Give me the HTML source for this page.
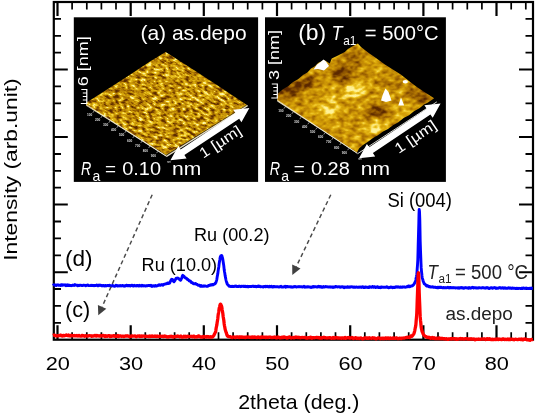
<!DOCTYPE html>
<html><head><meta charset="utf-8"><title>XRD</title>
<style>html,body{margin:0;padding:0;background:#fff}body{width:535px;height:414px;overflow:hidden}</style></head>
<body>
<svg width="535" height="414" viewBox="0 0 535 414" style="display:block">
<defs>
<filter id="fa" x="0" y="0" width="100%" height="100%" color-interpolation-filters="sRGB">
  <feGaussianBlur in="SourceGraphic" stdDeviation="3" result="s"/>
  <feTurbulence type="fractalNoise" baseFrequency="0.33 0.19" numOctaves="3" seed="11"/>
  <feColorMatrix type="matrix" values="1 0 0 0 0  1 0 0 0 0  1 0 0 0 0  0 0 0 0 1" result="n"/>
  <feComposite in="n" in2="s" operator="arithmetic" k1="0" k2="2.2" k3="1.0" k4="-1.12" result="m"/>
  <feColorMatrix in="m" type="matrix" values="1 0 0 0 0  1 0 0 0 0  1 0 0 0 0  0 0 0 0 1" result="g"/>
  <feComponentTransfer in="g">
    <feFuncR type="table" tableValues="0.36 0.52 0.68 0.78 0.86 0.96 1.0"/>
    <feFuncG type="table" tableValues="0.17 0.31 0.46 0.58 0.68 0.83 0.98"/>
    <feFuncB type="table" tableValues="0.00 0.00 0.01 0.03 0.05 0.22 0.7"/>
  </feComponentTransfer>
</filter>
<filter id="fb" x="0" y="0" width="100%" height="100%" color-interpolation-filters="sRGB">
  <feGaussianBlur in="SourceGraphic" stdDeviation="3.5" result="s"/>
  <feTurbulence type="fractalNoise" baseFrequency="0.17 0.18" numOctaves="2" seed="8"/>
  <feColorMatrix type="matrix" values="1 0 0 0 0  1 0 0 0 0  1 0 0 0 0  0 0 0 0 1" result="n"/>
  <feComposite in="n" in2="s" operator="arithmetic" k1="0" k2="1.1" k3="1.15" k4="-0.58" result="m"/>
  <feColorMatrix in="m" type="matrix" values="1 0 0 0 0  1 0 0 0 0  1 0 0 0 0  0 0 0 0 1" result="g"/>
  <feComponentTransfer in="g">
    <feFuncR type="table" tableValues="0.36 0.52 0.66 0.77 0.86 0.95 1.0"/>
    <feFuncG type="table" tableValues="0.16 0.30 0.43 0.55 0.66 0.80 0.95"/>
    <feFuncB type="table" tableValues="0.00 0.00 0.01 0.02 0.04 0.18 0.6"/>
  </feComponentTransfer>
</filter>
<filter id="bl"><feGaussianBlur stdDeviation="0.6"/></filter>
<filter id="bl2"><feGaussianBlur stdDeviation="3"/></filter>
</defs>
<rect width="535" height="414" fill="#fff"/>
<g stroke="#000" fill="none" stroke-linecap="butt">
<rect x="53.8" y="2.0" width="479.2" height="337.7" stroke-width="2.2"/>
<path d="M72.1 2.0v7.5M72.1 339.7v-7.5M86.8 2.0v7.5M86.8 339.7v-7.5M101.4 2.0v7.5M101.4 339.7v-7.5M116.0 2.0v7.5M116.0 339.7v-7.5M145.3 2.0v7.5M145.3 339.7v-7.5M159.9 2.0v7.5M159.9 339.7v-7.5M174.6 2.0v7.5M174.6 339.7v-7.5M189.2 2.0v7.5M189.2 339.7v-7.5M218.5 2.0v7.5M218.5 339.7v-7.5M233.1 2.0v7.5M233.1 339.7v-7.5M247.7 2.0v7.5M247.7 339.7v-7.5M262.4 2.0v7.5M262.4 339.7v-7.5M291.6 2.0v7.5M291.6 339.7v-7.5M306.3 2.0v7.5M306.3 339.7v-7.5M320.9 2.0v7.5M320.9 339.7v-7.5M335.5 2.0v7.5M335.5 339.7v-7.5M364.8 2.0v7.5M364.8 339.7v-7.5M379.4 2.0v7.5M379.4 339.7v-7.5M394.1 2.0v7.5M394.1 339.7v-7.5M408.7 2.0v7.5M408.7 339.7v-7.5M438.0 2.0v7.5M438.0 339.7v-7.5M452.6 2.0v7.5M452.6 339.7v-7.5M467.3 2.0v7.5M467.3 339.7v-7.5M481.9 2.0v7.5M481.9 339.7v-7.5M511.2 2.0v7.5M511.2 339.7v-7.5M525.8 2.0v7.5M525.8 339.7v-7.5" stroke-width="1.7"/>
<path d="M57.5 2.0v14M57.5 339.7v-14.5M130.7 2.0v14M130.7 339.7v-14.5M203.8 2.0v14M203.8 339.7v-14.5M277.0 2.0v14M277.0 339.7v-14.5M350.2 2.0v14M350.2 339.7v-14.5M423.4 2.0v14M423.4 339.7v-14.5M496.5 2.0v14M496.5 339.7v-14.5" stroke-width="2.2"/>
<path d="M53.8 18.9h7.2M533.0 18.9h-7.5M53.8 35.8h7.2M533.0 35.8h-7.5M53.8 52.7h7.2M533.0 52.7h-7.5M53.8 86.4h7.2M533.0 86.4h-7.5M53.8 103.3h7.2M533.0 103.3h-7.5M53.8 120.2h7.2M533.0 120.2h-7.5M53.8 154.0h7.2M533.0 154.0h-7.5M53.8 170.8h7.2M533.0 170.8h-7.5M53.8 187.7h7.2M533.0 187.7h-7.5M53.8 221.5h7.2M533.0 221.5h-7.5M53.8 238.4h7.2M533.0 238.4h-7.5M53.8 255.3h7.2M533.0 255.3h-7.5M53.8 289.0h7.2M533.0 289.0h-7.5M53.8 305.9h7.2M533.0 305.9h-7.5M53.8 322.8h7.2M533.0 322.8h-7.5" stroke-width="1.8"/>
<path d="M53.8 69.5h14M533.0 69.5h-14M53.8 137.1h14M533.0 137.1h-14M53.8 204.6h14M533.0 204.6h-14M53.8 272.2h14M533.0 272.2h-14" stroke-width="2"/>
</g>
<path d="M53.0 285.6L53.2 285.4L53.5 285.1L53.8 284.8L54.0 284.9L54.2 285.0L54.5 285.1L54.8 285.0L55.0 285.0L55.2 285.0L55.5 285.0L55.8 285.4L56.0 285.5L56.2 285.6L56.5 285.4L56.8 285.1L57.0 285.0L57.2 284.9L57.5 285.1L57.8 284.9L58.0 285.0L58.2 285.2L58.5 285.4L58.8 285.3L59.0 285.1L59.2 285.1L59.5 285.2L59.8 285.1L60.0 285.1L60.2 285.3L60.5 285.4L60.8 285.5L61.0 285.1L61.2 284.9L61.5 284.7L61.8 284.6L62.0 284.8L62.2 285.0L62.5 285.2L62.8 285.2L63.0 285.0L63.2 285.1L63.5 285.0L63.8 284.9L64.0 284.9L64.2 284.9L64.5 284.9L64.8 284.9L65.0 284.8L65.2 285.1L65.5 285.5L65.8 285.7L66.0 285.8L66.2 285.7L66.5 285.6L66.8 285.3L67.0 285.2L67.2 284.8L67.5 284.9L67.8 285.0L68.0 285.4L68.2 285.6L68.5 285.5L68.8 285.6L69.0 285.3L69.2 285.3L69.5 285.2L69.8 285.3L70.0 285.4L70.2 285.6L70.5 285.4L70.8 285.5L71.0 285.5L71.2 285.7L71.5 285.6L71.8 285.6L72.0 285.5L72.2 285.4L72.5 285.2L72.8 285.3L73.0 285.2L73.2 285.3L73.5 285.3L73.8 285.3L74.0 285.4L74.2 285.5L74.5 285.2L74.8 284.9L75.0 284.6L75.2 284.8L75.5 284.9L75.8 285.1L76.0 285.1L76.2 285.2L76.5 285.2L76.8 285.3L77.0 285.3L77.2 285.3L77.5 285.5L77.8 285.7L78.0 285.6L78.2 285.3L78.5 285.4L78.8 285.5L79.0 285.6L79.2 285.4L79.5 285.3L79.8 285.3L80.0 285.4L80.2 285.4L80.5 285.3L80.8 285.3L81.0 285.3L81.2 285.4L81.5 285.4L81.8 285.5L82.0 285.5L82.2 285.6L82.5 285.4L82.8 285.5L83.0 285.3L83.2 285.3L83.5 285.1L83.8 285.1L84.0 285.3L84.2 285.4L84.5 285.4L84.8 285.4L85.0 285.2L85.2 285.3L85.5 285.5L85.8 285.7L86.0 285.7L86.2 285.5L86.5 285.4L86.8 285.3L87.0 285.4L87.2 285.4L87.5 285.2L87.8 285.0L88.0 285.1L88.2 285.3L88.5 285.5L88.8 285.6L89.0 285.5L89.2 285.6L89.5 285.6L89.8 285.6L90.0 285.6L90.2 285.6L90.5 285.4L90.8 285.5L91.0 285.3L91.2 285.4L91.5 285.4L91.8 285.5L92.0 285.3L92.2 285.4L92.5 285.4L92.8 285.5L93.0 285.4L93.2 285.4L93.5 285.4L93.8 285.4L94.0 285.7L94.2 285.6L94.5 285.4L94.8 285.5L95.0 285.4L95.2 285.5L95.5 285.5L95.8 285.4L96.0 285.3L96.2 285.2L96.5 285.2L96.8 285.0L97.0 285.1L97.2 285.4L97.5 285.7L97.8 285.9L98.0 285.9L98.2 285.7L98.5 285.4L98.8 285.2L99.0 285.0L99.2 285.1L99.5 285.2L99.8 285.4L100.0 285.5L100.2 285.3L100.5 285.2L100.8 285.1L101.0 285.4L101.2 285.5L101.5 285.6L101.8 285.7L102.0 285.9L102.2 285.8L102.5 285.6L102.8 285.4L103.0 285.4L103.2 285.5L103.5 285.6L103.8 285.7L104.0 285.9L104.2 286.0L104.5 285.9L104.8 285.7L105.0 285.6L105.2 285.5L105.5 285.6L105.8 285.9L106.0 285.8L106.2 285.9L106.5 285.7L106.8 285.7L107.0 285.8L107.2 285.7L107.5 285.6L107.8 285.5L108.0 285.4L108.2 285.5L108.5 285.5L108.8 285.8L109.0 285.7L109.2 285.7L109.5 285.2L109.8 285.4L110.0 285.6L110.2 285.7L110.5 285.8L110.8 285.8L111.0 285.8L111.2 285.9L111.5 286.1L111.8 285.9L112.0 285.7L112.2 285.5L112.5 285.5L112.8 285.4L113.0 285.7L113.2 286.1L113.5 286.1L113.8 286.1L114.0 286.1L114.2 286.2L114.5 286.2L114.8 286.2L115.0 286.1L115.2 285.9L115.5 285.7L115.8 285.3L116.0 285.3L116.2 285.4L116.5 285.4L116.8 285.4L117.0 285.5L117.2 285.7L117.5 286.1L117.8 286.0L118.0 285.9L118.2 285.9L118.5 285.8L118.8 285.9L119.0 285.8L119.2 285.9L119.5 285.6L119.8 285.7L120.0 285.6L120.2 285.5L120.5 285.7L120.8 285.7L121.0 286.0L121.2 285.9L121.5 285.9L121.8 285.7L122.0 285.7L122.2 285.4L122.5 285.5L122.8 285.5L123.0 285.7L123.2 285.7L123.5 285.8L123.8 285.8L124.0 286.1L124.2 286.2L124.5 285.9L124.8 285.8L125.0 285.9L125.2 286.0L125.5 286.0L125.8 285.6L126.0 285.4L126.2 285.2L126.5 285.2L126.8 285.2L127.0 285.5L127.2 285.6L127.5 285.9L127.8 285.8L128.0 285.5L128.2 285.5L128.5 285.5L128.8 285.7L129.0 285.5L129.2 285.4L129.5 285.5L129.8 285.7L130.0 285.8L130.2 286.0L130.5 285.9L130.8 285.8L131.0 285.6L131.2 285.5L131.5 285.4L131.8 285.2L132.0 285.4L132.2 285.2L132.5 285.5L132.8 285.6L133.0 286.0L133.2 286.0L133.5 286.0L133.8 285.8L134.0 285.4L134.2 285.2L134.5 285.5L134.8 285.8L135.0 285.9L135.2 285.9L135.5 285.9L135.8 285.7L136.0 285.8L136.2 285.9L136.5 285.6L136.8 285.4L137.0 285.5L137.2 285.5L137.5 285.7L137.8 285.5L138.0 285.5L138.2 285.5L138.5 285.9L138.8 286.1L139.0 286.0L139.2 285.6L139.5 285.5L139.8 285.2L140.0 285.5L140.2 285.6L140.5 285.6L140.8 285.8L141.0 285.9L141.2 286.0L141.5 285.8L141.8 285.6L142.0 285.3L142.2 285.4L142.5 285.5L142.8 285.8L143.0 285.9L143.2 286.0L143.5 285.7L143.8 285.7L144.0 285.8L144.2 285.8L144.5 285.9L144.8 285.8L145.0 286.0L145.2 285.9L145.5 286.1L145.8 285.9L146.0 286.0L146.2 285.7L146.5 285.8L146.8 285.8L147.0 285.9L147.2 285.9L147.5 285.6L147.8 285.4L148.0 285.4L148.2 285.5L148.5 285.4L148.8 285.5L149.0 285.4L149.2 285.5L149.5 285.6L149.8 285.7L150.0 285.7L150.2 285.7L150.5 285.6L150.8 285.5L151.0 285.3L151.2 285.6L151.5 285.9L151.8 286.3L152.0 286.4L152.2 286.2L152.5 285.9L152.8 285.8L153.0 285.9L153.2 286.0L153.5 286.0L153.8 285.8L154.0 285.9L154.2 286.1L154.5 286.2L154.8 285.9L155.0 285.7L155.2 285.5L155.5 285.6L155.8 285.7L156.0 286.0L156.2 286.1L156.5 286.1L156.8 286.0L157.0 285.7L157.2 285.7L157.5 285.6L157.8 285.6L158.0 285.5L158.2 285.3L158.5 284.9L158.8 284.9L159.0 284.8L159.2 284.8L159.5 285.0L159.8 285.3L160.0 285.4L160.2 285.3L160.5 285.3L160.8 285.1L161.0 284.9L161.2 284.8L161.5 284.7L161.8 284.7L162.0 284.5L162.2 284.7L162.5 285.0L162.8 285.1L163.0 285.2L163.2 284.9L163.5 284.8L163.8 284.6L164.0 284.2L164.2 284.2L164.5 284.1L164.8 284.1L165.0 284.0L165.2 284.0L165.5 283.9L165.8 283.8L166.0 283.8L166.2 283.8L166.5 283.7L166.8 283.7L167.0 283.4L167.2 283.2L167.5 283.1L167.8 283.0L168.0 283.2L168.2 283.4L168.5 283.1L168.8 283.0L169.0 282.9L169.2 283.0L169.5 283.2L169.8 282.9L170.0 282.3L170.2 281.8L170.5 281.2L170.8 280.7L171.0 280.2L171.2 279.8L171.5 279.6L171.8 279.2L172.0 279.3L172.2 279.4L172.5 279.5L172.8 279.9L173.0 280.3L173.2 280.9L173.5 281.3L173.8 281.6L174.0 281.8L174.2 281.3L174.5 281.1L174.8 280.7L175.0 280.1L175.2 279.7L175.5 279.4L175.8 278.9L176.0 278.6L176.2 278.1L176.5 278.1L176.8 278.2L177.0 278.2L177.2 278.1L177.5 278.2L177.8 278.0L178.0 278.3L178.2 278.2L178.5 278.4L178.8 278.6L179.0 279.0L179.2 279.3L179.5 279.4L179.8 279.7L180.0 279.8L180.2 280.0L180.5 280.2L180.8 280.0L181.0 279.5L181.2 279.1L181.5 278.6L181.8 278.1L182.0 277.3L182.2 276.5L182.5 275.7L182.8 275.3L183.0 275.6L183.2 275.9L183.5 276.0L183.8 276.2L184.0 276.2L184.2 276.5L184.5 277.0L184.8 277.5L185.0 277.6L185.2 277.6L185.5 277.8L185.8 278.1L186.0 278.2L186.2 278.2L186.5 278.3L186.8 278.6L187.0 279.0L187.2 279.4L187.5 279.6L187.8 279.4L188.0 279.5L188.2 279.7L188.5 280.0L188.8 280.3L189.0 280.6L189.2 280.9L189.5 281.1L189.8 281.0L190.0 281.0L190.2 281.0L190.5 281.2L190.8 281.5L191.0 281.8L191.2 282.3L191.5 282.6L191.8 282.6L192.0 282.5L192.2 282.6L192.5 282.9L192.8 283.2L193.0 283.2L193.2 283.5L193.5 283.7L193.8 283.8L194.0 283.7L194.2 283.7L194.5 283.6L194.8 283.7L195.0 283.7L195.2 283.5L195.5 283.5L195.8 283.7L196.0 283.9L196.2 284.2L196.5 284.2L196.8 284.2L197.0 284.2L197.2 284.5L197.5 284.7L197.8 284.8L198.0 285.1L198.2 285.3L198.5 285.4L198.8 285.2L199.0 285.2L199.2 285.1L199.5 285.2L199.8 285.5L200.0 285.9L200.2 286.2L200.5 286.0L200.8 285.9L201.0 285.8L201.2 285.6L201.5 285.9L201.8 285.9L202.0 286.4L202.2 286.4L202.5 286.4L202.8 286.3L203.0 286.4L203.2 286.3L203.5 286.2L203.8 286.1L204.0 285.9L204.2 286.1L204.5 286.2L204.8 286.1L205.0 286.1L205.2 286.0L205.5 286.1L205.8 286.1L206.0 286.1L206.2 286.1L206.5 286.3L206.8 286.4L207.0 286.4L207.2 286.4L207.5 286.4L207.8 286.3L208.0 286.0L208.2 285.7L208.5 285.5L208.8 285.6L209.0 285.6L209.2 285.5L209.5 285.3L209.8 285.2L210.0 285.0L210.2 285.2L210.5 285.0L210.8 284.9L211.0 284.7L211.2 284.7L211.5 284.7L211.8 285.0L212.0 284.8L212.2 284.6L212.5 284.5L212.8 284.6L213.0 284.7L213.2 284.8L213.5 284.4L213.8 284.3L214.0 284.2L214.2 284.1L214.5 284.0L214.8 283.9L215.0 283.8L215.2 283.4L215.5 283.1L215.8 282.7L216.0 282.2L216.2 281.4L216.5 280.7L216.8 279.5L217.0 278.1L217.2 276.8L217.5 275.2L217.8 273.8L218.0 272.0L218.2 270.4L218.5 268.6L218.8 267.0L219.0 265.2L219.2 263.4L219.5 261.6L219.8 260.0L220.0 258.3L220.2 257.3L220.5 256.4L220.8 255.9L221.0 255.6L221.2 255.6L221.5 255.4L221.8 255.7L222.0 256.1L222.2 257.1L222.5 257.9L222.8 259.4L223.0 260.6L223.2 262.0L223.5 263.9L223.8 265.9L224.0 267.9L224.2 269.8L224.5 271.7L224.8 273.2L225.0 274.7L225.2 276.1L225.5 277.7L225.8 279.0L226.0 280.0L226.2 280.8L226.5 281.8L226.8 282.8L227.0 283.4L227.2 283.9L227.5 284.3L227.8 284.8L228.0 285.0L228.2 285.1L228.5 285.3L228.8 285.7L229.0 286.1L229.2 286.2L229.5 286.3L229.8 286.3L230.0 286.3L230.2 286.4L230.5 286.4L230.8 286.5L231.0 286.5L231.2 286.3L231.5 286.4L231.8 286.4L232.0 286.5L232.2 286.4L232.5 286.4L232.8 286.2L233.0 286.4L233.2 286.5L233.5 286.4L233.8 286.6L234.0 286.4L234.2 286.3L234.5 286.1L234.8 286.3L235.0 286.2L235.2 286.3L235.5 286.3L235.8 286.1L236.0 286.0L236.2 286.1L236.5 286.3L236.8 286.5L237.0 286.5L237.2 286.5L237.5 286.4L237.8 286.4L238.0 286.5L238.2 286.6L238.5 286.4L238.8 286.1L239.0 286.1L239.2 286.4L239.5 286.2L239.8 286.3L240.0 286.3L240.2 286.4L240.5 286.6L240.8 286.7L241.0 286.5L241.2 286.5L241.5 286.3L241.8 286.3L242.0 286.3L242.2 286.4L242.5 286.4L242.8 286.4L243.0 286.1L243.2 286.1L243.5 286.2L243.8 286.5L244.0 286.6L244.2 286.6L244.5 286.3L244.8 286.4L245.0 286.3L245.2 286.2L245.5 286.3L245.8 286.5L246.0 286.7L246.2 286.7L246.5 286.6L246.8 286.6L247.0 286.5L247.2 286.4L247.5 286.3L247.8 286.4L248.0 286.6L248.2 286.9L248.5 286.7L248.8 286.6L249.0 286.4L249.2 286.4L249.5 286.5L249.8 286.6L250.0 286.6L250.2 286.6L250.5 286.5L250.8 286.6L251.0 286.6L251.2 286.4L251.5 286.5L251.8 286.5L252.0 286.3L252.2 286.3L252.5 286.2L252.8 286.4L253.0 286.3L253.2 286.2L253.5 286.3L253.8 286.3L254.0 286.6L254.2 286.6L254.5 286.6L254.8 286.4L255.0 286.2L255.2 286.2L255.5 286.5L255.8 286.5L256.0 286.6L256.2 286.7L256.5 286.5L256.8 286.5L257.0 286.4L257.2 286.4L257.5 286.3L257.8 286.5L258.0 286.6L258.2 286.4L258.5 286.0L258.8 286.0L259.0 286.3L259.2 286.5L259.5 286.5L259.8 286.6L260.0 286.4L260.2 286.7L260.5 286.7L260.8 286.8L261.0 286.7L261.2 286.7L261.5 286.6L261.8 286.6L262.0 286.6L262.2 286.6L262.5 286.6L262.8 286.9L263.0 287.0L263.2 287.0L263.5 286.8L263.8 286.6L264.0 286.5L264.2 286.4L264.5 286.5L264.8 286.6L265.0 286.6L265.2 286.7L265.5 286.3L265.8 286.4L266.0 286.4L266.2 286.7L266.5 286.6L266.8 286.5L267.0 286.3L267.2 286.3L267.5 286.4L267.8 286.7L268.0 286.8L268.2 286.9L268.5 286.8L268.8 286.9L269.0 286.4L269.2 286.2L269.5 286.4L269.8 286.5L270.0 286.7L270.2 286.6L270.5 286.8L270.8 286.8L271.0 286.5L271.2 286.3L271.5 286.3L271.8 286.6L272.0 286.8L272.2 287.0L272.5 287.0L272.8 287.1L273.0 286.9L273.2 286.8L273.5 286.5L273.8 286.4L274.0 286.5L274.2 286.6L274.5 286.8L274.8 286.9L275.0 286.8L275.2 286.6L275.5 286.6L275.8 286.7L276.0 286.6L276.2 286.6L276.5 286.6L276.8 286.7L277.0 286.7L277.2 286.6L277.5 286.6L277.8 286.8L278.0 286.8L278.2 286.9L278.5 286.9L278.8 287.0L279.0 287.1L279.2 287.0L279.5 286.8L279.8 286.7L280.0 286.8L280.2 286.8L280.5 286.7L280.8 286.4L281.0 286.3L281.2 286.6L281.5 286.9L281.8 287.1L282.0 287.1L282.2 287.0L282.5 286.9L282.8 286.9L283.0 286.9L283.2 287.0L283.5 286.9L283.8 286.9L284.0 286.7L284.2 286.6L284.5 286.4L284.8 286.4L285.0 286.3L285.2 286.8L285.5 287.0L285.8 287.2L286.0 286.9L286.2 286.7L286.5 286.5L286.8 286.8L287.0 286.5L287.2 286.6L287.5 286.4L287.8 286.6L288.0 286.8L288.2 286.8L288.5 286.7L288.8 286.6L289.0 286.6L289.2 286.8L289.5 286.9L289.8 286.8L290.0 286.7L290.2 286.7L290.5 286.9L290.8 287.0L291.0 286.8L291.2 286.8L291.5 287.0L291.8 287.0L292.0 287.2L292.2 287.2L292.5 287.1L292.8 287.1L293.0 287.1L293.2 286.8L293.5 286.8L293.8 286.8L294.0 286.8L294.2 286.8L294.5 286.6L294.8 286.4L295.0 286.4L295.2 286.6L295.5 286.8L295.8 286.8L296.0 286.8L296.2 286.9L296.5 287.0L296.8 286.9L297.0 286.8L297.2 286.8L297.5 286.9L297.8 286.7L298.0 286.7L298.2 286.7L298.5 286.6L298.8 286.7L299.0 286.6L299.2 286.8L299.5 286.7L299.8 286.6L300.0 286.6L300.2 286.6L300.5 286.8L300.8 286.9L301.0 286.8L301.2 286.8L301.5 286.9L301.8 286.8L302.0 286.9L302.2 287.0L302.5 287.1L302.8 286.9L303.0 286.8L303.2 286.8L303.5 286.4L303.8 286.4L304.0 286.3L304.2 286.5L304.5 287.0L304.8 287.1L305.0 287.2L305.2 287.0L305.5 286.9L305.8 286.8L306.0 286.7L306.2 286.8L306.5 287.0L306.8 287.1L307.0 287.0L307.2 287.0L307.5 286.8L307.8 286.8L308.0 286.7L308.2 286.9L308.5 286.8L308.8 286.9L309.0 286.9L309.2 287.1L309.5 287.1L309.8 287.0L310.0 287.0L310.2 287.0L310.5 287.2L310.8 287.2L311.0 287.4L311.2 287.3L311.5 287.2L311.8 287.0L312.0 287.3L312.2 287.3L312.5 287.0L312.8 286.7L313.0 286.5L313.2 286.8L313.5 286.7L313.8 287.0L314.0 286.6L314.2 286.8L314.5 286.8L314.8 286.8L315.0 286.8L315.2 286.8L315.5 286.8L315.8 286.8L316.0 286.8L316.2 286.8L316.5 286.9L316.8 287.0L317.0 286.9L317.2 286.9L317.5 286.8L317.8 287.0L318.0 286.7L318.2 286.7L318.5 286.3L318.8 286.4L319.0 286.5L319.2 286.9L319.5 286.9L319.8 286.8L320.0 286.8L320.2 287.1L320.5 287.0L320.8 286.9L321.0 286.6L321.2 286.7L321.5 287.0L321.8 287.3L322.0 287.1L322.2 287.1L322.5 286.9L322.8 287.1L323.0 286.8L323.2 286.7L323.5 286.5L323.8 286.8L324.0 286.9L324.2 287.1L324.5 286.9L324.8 287.0L325.0 286.9L325.2 286.8L325.5 286.5L325.8 286.5L326.0 286.6L326.2 286.9L326.5 286.8L326.8 286.9L327.0 286.9L327.2 286.7L327.5 286.9L327.8 286.9L328.0 287.0L328.2 287.1L328.5 287.0L328.8 287.1L329.0 287.1L329.2 287.1L329.5 286.9L329.8 286.8L330.0 286.7L330.2 287.0L330.5 286.9L330.8 287.2L331.0 287.3L331.2 287.2L331.5 287.0L331.8 286.9L332.0 286.9L332.2 287.1L332.5 287.2L332.8 287.3L333.0 287.4L333.2 287.0L333.5 286.9L333.8 286.9L334.0 287.0L334.2 287.1L334.5 287.1L334.8 287.2L335.0 287.0L335.2 286.9L335.5 286.6L335.8 286.8L336.0 286.7L336.2 286.8L336.5 286.7L336.8 286.7L337.0 286.7L337.2 286.9L337.5 286.9L337.8 287.0L338.0 286.8L338.2 286.8L338.5 286.8L338.8 286.9L339.0 286.9L339.2 286.9L339.5 286.7L339.8 286.9L340.0 287.1L340.2 287.2L340.5 287.0L340.8 287.0L341.0 286.9L341.2 287.1L341.5 286.9L341.8 286.7L342.0 286.8L342.2 286.8L342.5 287.1L342.8 287.1L343.0 287.1L343.2 286.9L343.5 287.0L343.8 287.3L344.0 287.6L344.2 287.7L344.5 287.4L344.8 286.9L345.0 287.0L345.2 287.0L345.5 287.3L345.8 287.2L346.0 287.2L346.2 287.2L346.5 287.3L346.8 287.2L347.0 286.9L347.2 286.7L347.5 286.8L347.8 287.2L348.0 287.2L348.2 287.1L348.5 287.0L348.8 287.2L349.0 287.2L349.2 287.1L349.5 287.0L349.8 287.0L350.0 287.1L350.2 287.2L350.5 287.1L350.8 286.8L351.0 286.7L351.2 286.8L351.5 286.9L351.8 286.8L352.0 286.8L352.2 286.9L352.5 286.9L352.8 287.0L353.0 287.2L353.2 287.3L353.5 287.4L353.8 287.3L354.0 287.2L354.2 287.0L354.5 287.1L354.8 287.2L355.0 287.3L355.2 287.3L355.5 287.3L355.8 287.2L356.0 287.1L356.2 286.9L356.5 287.0L356.8 287.0L357.0 287.2L357.2 287.1L357.5 287.1L357.8 287.1L358.0 287.3L358.2 287.3L358.5 287.2L358.8 287.2L359.0 287.2L359.2 287.3L359.5 287.2L359.8 287.1L360.0 287.0L360.2 287.0L360.5 287.1L360.8 287.2L361.0 287.2L361.2 287.4L361.5 287.2L361.8 287.3L362.0 287.1L362.2 286.8L362.5 286.9L362.8 286.8L363.0 287.1L363.2 287.4L363.5 287.6L363.8 287.4L364.0 287.1L364.2 287.1L364.5 287.4L364.8 287.5L365.0 287.5L365.2 287.1L365.5 287.0L365.8 286.9L366.0 287.0L366.2 287.3L366.5 287.2L366.8 287.4L367.0 287.4L367.2 287.4L367.5 287.3L367.8 287.3L368.0 287.5L368.2 287.3L368.5 287.5L368.8 287.6L369.0 287.5L369.2 287.3L369.5 286.8L369.8 286.8L370.0 286.8L370.2 287.0L370.5 287.1L370.8 287.2L371.0 287.1L371.2 287.2L371.5 287.0L371.8 287.2L372.0 286.9L372.2 286.7L372.5 286.5L372.8 286.6L373.0 286.9L373.2 287.2L373.5 287.4L373.8 287.2L374.0 286.9L374.2 286.6L374.5 286.7L374.8 286.8L375.0 287.1L375.2 287.2L375.5 287.5L375.8 287.2L376.0 287.4L376.2 287.4L376.5 287.3L376.8 287.2L377.0 287.2L377.2 286.7L377.5 286.7L377.8 286.8L378.0 287.2L378.2 287.4L378.5 287.5L378.8 287.6L379.0 287.4L379.2 287.3L379.5 287.3L379.8 287.4L380.0 287.4L380.2 287.4L380.5 287.7L380.8 287.6L381.0 287.4L381.2 287.0L381.5 286.9L381.8 287.0L382.0 287.1L382.2 287.1L382.5 287.2L382.8 287.2L383.0 287.1L383.2 287.2L383.5 287.1L383.8 287.1L384.0 287.2L384.2 287.3L384.5 287.3L384.8 287.2L385.0 287.3L385.2 287.3L385.5 287.4L385.8 287.4L386.0 287.4L386.2 287.3L386.5 287.0L386.8 286.8L387.0 286.9L387.2 287.1L387.5 287.1L387.8 287.2L388.0 287.4L388.2 287.7L388.5 287.9L388.8 287.7L389.0 287.8L389.2 287.7L389.5 287.6L389.8 287.3L390.0 287.2L390.2 287.3L390.5 287.4L390.8 287.1L391.0 287.2L391.2 287.3L391.5 287.3L391.8 287.1L392.0 287.3L392.2 287.5L392.5 287.7L392.8 287.6L393.0 287.6L393.2 287.4L393.5 287.4L393.8 287.2L394.0 287.2L394.2 287.2L394.5 287.3L394.8 287.5L395.0 287.4L395.2 287.4L395.5 287.1L395.8 287.0L396.0 286.6L396.2 286.6L396.5 286.8L396.8 286.9L397.0 287.1L397.2 287.2L397.5 287.1L397.8 287.0L398.0 286.8L398.2 286.8L398.5 286.9L398.8 286.9L399.0 287.2L399.2 287.2L399.5 287.4L399.8 287.2L400.0 287.2L400.2 287.0L400.5 287.0L400.8 287.1L401.0 287.3L401.2 287.4L401.5 287.2L401.8 287.2L402.0 287.2L402.2 287.3L402.5 287.1L402.8 287.0L403.0 287.0L403.2 287.0L403.5 287.0L403.8 287.0L404.0 287.0L404.2 287.1L404.5 287.1L404.8 287.0L405.0 287.2L405.2 287.2L405.5 287.2L405.8 287.1L406.0 287.0L406.2 287.0L406.5 286.9L406.8 286.8L407.0 286.6L407.2 286.7L407.5 286.8L407.8 286.9L408.0 286.7L408.2 286.5L408.5 286.0L408.8 285.9L409.0 285.9L409.2 286.4L409.5 286.7L409.8 286.8L410.0 286.5L410.2 286.5L410.5 286.3L410.8 286.1L411.0 285.9L411.2 286.0L411.5 285.9L411.8 285.9L412.0 286.0L412.2 285.9L412.5 285.8L412.8 285.5L413.0 285.1L413.2 284.8L413.5 284.7L413.8 284.5L414.0 284.2L414.2 283.8L414.5 283.2L414.8 282.8L415.0 282.2L415.2 281.7L415.5 281.0L415.8 280.1L416.0 279.1L416.2 277.6L416.5 276.2L416.8 274.2L417.0 272.1L417.2 268.8L417.5 265.0L417.8 259.8L418.0 253.0L418.2 244.4L418.5 234.3L418.8 223.6L419.0 214.2L419.2 209.4L419.5 211.5L419.8 219.5L420.0 230.4L420.2 241.3L420.5 250.3L420.8 257.9L421.0 263.4L421.2 267.9L421.5 271.3L421.8 273.9L422.0 275.9L422.2 277.5L422.5 278.8L422.8 279.5L423.0 280.6L423.2 281.3L423.5 282.0L423.8 282.7L424.0 283.2L424.2 283.7L424.5 283.9L424.8 284.2L425.0 284.1L425.2 284.4L425.5 284.6L425.8 285.1L426.0 285.3L426.2 285.6L426.5 285.7L426.8 286.1L427.0 286.0L427.2 285.9L427.5 285.6L427.8 285.8L428.0 286.0L428.2 286.4L428.5 286.6L428.8 286.6L429.0 286.7L429.2 286.5L429.5 286.5L429.8 286.8L430.0 287.0L430.2 287.0L430.5 286.8L430.8 287.0L431.0 286.9L431.2 287.0L431.5 287.1L431.8 287.0L432.0 287.0L432.2 286.8L432.5 286.9L432.8 286.8L433.0 287.1L433.2 287.2L433.5 287.3L433.8 287.3L434.0 287.3L434.2 287.3L434.5 287.2L434.8 287.2L435.0 287.2L435.2 287.1L435.5 287.2L435.8 287.5L436.0 287.6L436.2 287.5L436.5 287.6L436.8 287.7L437.0 287.7L437.2 287.5L437.5 287.2L437.8 287.4L438.0 287.7L438.2 287.7L438.5 287.5L438.8 287.3L439.0 287.3L439.2 287.3L439.5 287.4L439.8 287.3L440.0 287.6L440.2 287.6L440.5 287.5L440.8 287.2L441.0 287.1L441.2 287.1L441.5 287.3L441.8 287.4L442.0 287.7L442.2 287.8L442.5 287.7L442.8 287.7L443.0 287.8L443.2 287.8L443.5 287.6L443.8 287.5L444.0 287.6L444.2 287.6L444.5 287.8L444.8 287.8L445.0 287.8L445.2 287.6L445.5 287.8L445.8 287.8L446.0 287.8L446.2 287.8L446.5 287.9L446.8 287.8L447.0 287.7L447.2 287.6L447.5 287.4L447.8 287.3L448.0 287.3L448.2 287.5L448.5 287.7L448.8 287.9L449.0 287.9L449.2 288.0L449.5 287.7L449.8 287.5L450.0 287.4L450.2 287.5L450.5 287.6L450.8 287.8L451.0 287.6L451.2 287.8L451.5 287.8L451.8 287.9L452.0 287.8L452.2 287.8L452.5 287.7L452.8 287.7L453.0 287.5L453.2 287.7L453.5 287.7L453.8 287.6L454.0 287.8L454.2 287.7L454.5 287.9L454.8 287.9L455.0 287.9L455.2 287.9L455.5 287.8L455.8 288.0L456.0 288.0L456.2 287.9L456.5 287.9L456.8 287.8L457.0 287.7L457.2 287.7L457.5 287.9L457.8 288.0L458.0 288.2L458.2 288.2L458.5 288.1L458.8 287.8L459.0 287.8L459.2 287.7L459.5 287.8L459.8 288.2L460.0 287.9L460.2 287.9L460.5 287.7L460.8 287.7L461.0 287.6L461.2 287.4L461.5 287.6L461.8 287.9L462.0 288.0L462.2 288.0L462.5 287.8L462.8 287.8L463.0 287.7L463.2 287.8L463.5 287.9L463.8 288.2L464.0 288.0L464.2 288.0L464.5 287.8L464.8 287.6L465.0 287.6L465.2 287.7L465.5 287.7L465.8 287.8L466.0 287.7L466.2 287.7L466.5 287.9L466.8 287.9L467.0 287.9L467.2 288.0L467.5 288.1L467.8 287.9L468.0 287.8L468.2 288.2L468.5 288.3L468.8 288.1L469.0 287.8L469.2 287.6L469.5 287.9L469.8 287.9L470.0 288.1L470.2 288.1L470.5 288.2L470.8 288.1L471.0 287.9L471.2 287.8L471.5 287.7L471.8 287.8L472.0 287.6L472.2 287.4L472.5 287.3L472.8 287.4L473.0 287.6L473.2 287.9L473.5 288.1L473.8 287.9L474.0 287.6L474.2 287.6L474.5 287.8L474.8 287.8L475.0 287.7L475.2 287.6L475.5 287.6L475.8 288.0L476.0 287.9L476.2 287.9L476.5 287.8L476.8 288.1L477.0 288.0L477.2 288.0L477.5 288.0L477.8 288.0L478.0 288.1L478.2 287.8L478.5 287.9L478.8 287.8L479.0 287.8L479.2 287.8L479.5 287.8L479.8 287.7L480.0 287.8L480.2 287.9L480.5 287.9L480.8 287.9L481.0 288.0L481.2 288.0L481.5 287.9L481.8 287.9L482.0 287.8L482.2 287.9L482.5 287.7L482.8 287.6L483.0 287.7L483.2 287.6L483.5 287.7L483.8 287.8L484.0 288.0L484.2 287.9L484.5 287.9L484.8 287.9L485.0 288.0L485.2 288.0L485.5 288.1L485.8 288.2L486.0 288.0L486.2 287.9L486.5 287.7L486.8 287.6L487.0 287.5L487.2 287.6L487.5 287.8L487.8 288.0L488.0 288.1L488.2 288.0L488.5 288.0L488.8 288.1L489.0 288.5L489.2 288.6L489.5 288.4L489.8 288.3L490.0 288.1L490.2 288.1L490.5 287.9L490.8 287.8L491.0 287.9L491.2 287.8L491.5 287.9L491.8 287.8L492.0 288.0L492.2 288.2L492.5 288.3L492.8 288.2L493.0 288.0L493.2 287.9L493.5 287.8L493.8 287.6L494.0 287.7L494.2 287.6L494.5 287.9L494.8 287.9L495.0 287.9L495.2 287.7L495.5 287.9L495.8 288.2L496.0 288.4L496.2 288.3L496.5 288.2L496.8 288.0L497.0 288.1L497.2 288.1L497.5 288.1L497.8 288.3L498.0 288.2L498.2 288.3L498.5 288.0L498.8 287.9L499.0 287.8L499.2 287.8L499.5 287.8L499.8 287.8L500.0 287.6L500.2 287.6L500.5 287.7L500.8 287.9L501.0 288.2L501.2 288.1L501.5 288.0L501.8 288.0L502.0 287.9L502.2 288.0L502.5 287.8L502.8 287.8L503.0 287.7L503.2 288.0L503.5 288.3L503.8 288.4L504.0 288.2L504.2 288.1L504.5 287.9L504.8 287.8L505.0 287.8L505.2 288.1L505.5 288.1L505.8 288.3L506.0 288.3L506.2 288.2L506.5 288.2L506.8 288.1L507.0 288.1L507.2 288.2L507.5 288.2L507.8 288.3L508.0 288.2L508.2 287.9L508.5 287.8L508.8 287.8L509.0 287.9L509.2 288.0L509.5 288.2L509.8 288.1L510.0 288.0L510.2 288.0L510.5 287.9L510.8 288.2L511.0 288.3L511.2 288.4L511.5 288.1L511.8 288.1L512.0 288.1L512.2 288.0L512.5 288.0L512.8 288.2L513.0 288.2L513.2 288.2L513.5 288.1L513.8 288.2L514.0 288.2L514.2 288.2L514.5 288.3L514.8 288.4L515.0 288.4L515.2 288.5L515.5 288.5L515.8 288.4L516.0 288.2L516.2 288.3L516.5 288.4L516.8 288.3L517.0 288.5L517.2 288.3L517.5 288.4L517.8 288.5L518.0 288.5L518.2 288.6L518.5 288.4L518.8 288.4L519.0 288.3L519.2 288.4L519.5 288.4L519.8 288.4L520.0 288.4L520.2 288.5L520.5 288.5L520.8 288.6L521.0 288.4L521.2 288.3L521.5 288.2L521.8 288.3L522.0 288.6L522.2 288.5L522.5 288.5L522.8 288.3L523.0 288.1L523.2 288.0L523.5 287.9L523.8 288.1L524.0 288.3L524.2 288.3L524.5 288.4L524.8 288.3L525.0 288.4L525.2 288.1L525.5 288.2L525.8 288.1L526.0 288.2L526.2 288.3L526.5 288.1L526.8 288.3L527.0 288.3L527.2 288.4L527.5 288.5L527.8 288.5L528.0 288.6L528.2 288.6L528.5 288.6L528.8 288.5L529.0 288.3L529.2 288.2L529.5 288.4L529.8 288.4L530.0 288.5L530.2 288.3L530.5 288.2L530.8 288.3L531.0 288.2L531.2 288.1L531.5 288.3L531.8 288.2L532.0 288.4L532.2 288.3L532.5 288.4L532.8 288.4" fill="none" stroke="#0000ff" stroke-width="2.9" stroke-linejoin="round"/>
<path d="M53.0 335.4L53.2 335.3L53.5 335.2L53.8 335.3L54.0 335.3L54.2 335.2L54.5 335.1L54.8 335.2L55.0 335.3L55.2 335.5L55.5 335.7L55.8 335.9L56.0 335.9L56.2 335.9L56.5 336.0L56.8 335.9L57.0 335.8L57.2 335.6L57.5 335.6L57.8 335.8L58.0 335.8L58.2 335.8L58.5 335.8L58.8 335.7L59.0 335.7L59.2 335.6L59.5 335.6L59.8 335.5L60.0 335.3L60.2 335.2L60.5 335.4L60.8 335.6L61.0 335.2L61.2 335.3L61.5 335.4L61.8 335.7L62.0 335.9L62.2 336.0L62.5 336.0L62.8 335.9L63.0 335.6L63.2 335.5L63.5 335.5L63.8 335.5L64.0 335.5L64.2 335.6L64.5 335.8L64.8 335.7L65.0 335.6L65.2 335.5L65.5 335.3L65.8 335.3L66.0 335.1L66.2 334.9L66.5 334.9L66.8 335.2L67.0 335.3L67.2 335.5L67.5 335.7L67.8 335.6L68.0 335.6L68.2 335.2L68.5 335.0L68.8 335.4L69.0 335.7L69.2 335.9L69.5 335.7L69.8 335.7L70.0 335.7L70.2 335.9L70.5 335.5L70.8 335.6L71.0 335.5L71.2 335.4L71.5 335.5L71.8 335.5L72.0 335.5L72.2 335.7L72.5 335.8L72.8 335.8L73.0 335.6L73.2 335.6L73.5 335.7L73.8 335.9L74.0 335.9L74.2 335.9L74.5 335.8L74.8 335.5L75.0 335.7L75.2 335.6L75.5 335.8L75.8 335.8L76.0 335.9L76.2 335.7L76.5 335.7L76.8 335.5L77.0 335.8L77.2 335.8L77.5 335.8L77.8 336.0L78.0 335.9L78.2 335.9L78.5 335.8L78.8 335.6L79.0 335.5L79.2 335.5L79.5 335.8L79.8 336.0L80.0 336.0L80.2 336.0L80.5 336.1L80.8 336.1L81.0 336.1L81.2 336.1L81.5 336.0L81.8 335.8L82.0 335.7L82.2 335.4L82.5 335.3L82.8 335.7L83.0 335.7L83.2 336.0L83.5 335.8L83.8 335.9L84.0 335.7L84.2 335.8L84.5 335.8L84.8 336.2L85.0 336.1L85.2 336.1L85.5 335.8L85.8 335.6L86.0 335.6L86.2 335.8L86.5 335.8L86.8 336.0L87.0 336.1L87.2 336.0L87.5 335.8L87.8 335.8L88.0 336.0L88.2 335.9L88.5 335.9L88.8 335.8L89.0 335.6L89.2 335.7L89.5 335.6L89.8 335.7L90.0 335.7L90.2 335.9L90.5 335.8L90.8 335.9L91.0 335.7L91.2 335.9L91.5 336.1L91.8 336.3L92.0 336.2L92.2 336.1L92.5 335.9L92.8 335.9L93.0 336.0L93.2 336.0L93.5 336.0L93.8 335.9L94.0 335.9L94.2 335.7L94.5 335.6L94.8 335.5L95.0 335.7L95.2 335.5L95.5 335.6L95.8 335.7L96.0 336.2L96.2 336.2L96.5 335.8L96.8 335.4L97.0 335.4L97.2 335.6L97.5 335.7L97.8 335.8L98.0 335.7L98.2 335.8L98.5 335.9L98.8 336.0L99.0 335.9L99.2 335.8L99.5 335.8L99.8 335.9L100.0 335.8L100.2 336.0L100.5 335.8L100.8 335.9L101.0 335.6L101.2 335.9L101.5 335.8L101.8 336.0L102.0 335.9L102.2 335.8L102.5 335.8L102.8 335.6L103.0 335.5L103.2 335.5L103.5 335.5L103.8 335.6L104.0 335.8L104.2 336.1L104.5 336.3L104.8 336.5L105.0 336.5L105.2 336.2L105.5 335.9L105.8 335.7L106.0 335.8L106.2 335.9L106.5 336.2L106.8 336.2L107.0 336.4L107.2 336.3L107.5 336.1L107.8 335.9L108.0 335.8L108.2 335.7L108.5 335.7L108.8 335.7L109.0 335.8L109.2 335.7L109.5 336.1L109.8 336.4L110.0 336.5L110.2 336.3L110.5 335.9L110.8 335.9L111.0 336.2L111.2 336.3L111.5 336.4L111.8 336.2L112.0 336.1L112.2 335.9L112.5 335.9L112.8 336.1L113.0 336.1L113.2 336.1L113.5 336.0L113.8 335.7L114.0 335.6L114.2 335.7L114.5 335.9L114.8 336.2L115.0 336.1L115.2 336.2L115.5 336.3L115.8 336.4L116.0 336.4L116.2 336.2L116.5 336.2L116.8 336.1L117.0 336.2L117.2 336.0L117.5 335.7L117.8 335.5L118.0 335.9L118.2 336.2L118.5 336.6L118.8 336.6L119.0 336.3L119.2 336.2L119.5 336.0L119.8 335.9L120.0 335.8L120.2 335.9L120.5 336.0L120.8 336.0L121.0 336.2L121.2 336.3L121.5 336.5L121.8 336.4L122.0 336.3L122.2 336.2L122.5 336.1L122.8 336.2L123.0 336.1L123.2 336.2L123.5 336.2L123.8 336.4L124.0 336.6L124.2 336.5L124.5 336.4L124.8 336.1L125.0 336.1L125.2 336.0L125.5 335.9L125.8 336.0L126.0 336.1L126.2 336.2L126.5 336.0L126.8 336.1L127.0 336.0L127.2 336.1L127.5 336.0L127.8 335.9L128.0 335.9L128.2 336.1L128.5 336.2L128.8 336.3L129.0 336.4L129.2 336.5L129.5 336.7L129.8 336.4L130.0 336.3L130.2 336.3L130.5 336.5L130.8 336.4L131.0 336.1L131.2 335.9L131.5 336.0L131.8 336.3L132.0 336.3L132.2 336.1L132.5 335.8L132.8 335.8L133.0 336.0L133.2 336.1L133.5 336.2L133.8 336.1L134.0 336.1L134.2 336.1L134.5 336.0L134.8 335.8L135.0 335.9L135.2 336.1L135.5 336.3L135.8 336.4L136.0 336.6L136.2 336.4L136.5 336.7L136.8 336.4L137.0 336.3L137.2 336.2L137.5 336.0L137.8 336.1L138.0 336.1L138.2 336.1L138.5 336.2L138.8 336.0L139.0 336.1L139.2 336.0L139.5 336.4L139.8 336.5L140.0 336.6L140.2 336.3L140.5 336.4L140.8 336.2L141.0 336.2L141.2 336.0L141.5 336.1L141.8 336.2L142.0 336.4L142.2 336.1L142.5 336.3L142.8 336.2L143.0 336.2L143.2 336.1L143.5 336.0L143.8 336.2L144.0 336.1L144.2 336.2L144.5 336.1L144.8 336.4L145.0 336.5L145.2 336.4L145.5 336.3L145.8 336.2L146.0 336.2L146.2 336.1L146.5 336.3L146.8 336.3L147.0 336.3L147.2 336.4L147.5 336.4L147.8 336.3L148.0 336.3L148.2 336.3L148.5 336.5L148.8 336.7L149.0 336.6L149.2 336.4L149.5 336.1L149.8 336.0L150.0 336.2L150.2 336.3L150.5 336.5L150.8 336.4L151.0 336.4L151.2 336.2L151.5 336.1L151.8 336.0L152.0 336.3L152.2 336.3L152.5 336.4L152.8 336.2L153.0 336.3L153.2 336.3L153.5 336.4L153.8 336.4L154.0 336.2L154.2 336.4L154.5 336.4L154.8 336.4L155.0 336.4L155.2 336.1L155.5 336.3L155.8 336.4L156.0 336.6L156.2 336.6L156.5 336.6L156.8 336.3L157.0 336.4L157.2 336.1L157.5 336.3L157.8 336.3L158.0 336.5L158.2 336.5L158.5 336.5L158.8 336.5L159.0 336.5L159.2 336.5L159.5 336.3L159.8 336.0L160.0 336.0L160.2 336.0L160.5 336.2L160.8 336.3L161.0 336.4L161.2 336.4L161.5 336.5L161.8 336.4L162.0 336.2L162.2 336.2L162.5 336.3L162.8 336.5L163.0 336.6L163.2 336.4L163.5 336.5L163.8 336.7L164.0 336.4L164.2 336.3L164.5 336.0L164.8 336.2L165.0 336.1L165.2 336.1L165.5 336.2L165.8 336.5L166.0 336.5L166.2 336.6L166.5 336.5L166.8 336.6L167.0 336.9L167.2 337.0L167.5 336.9L167.8 336.8L168.0 336.8L168.2 336.8L168.5 337.0L168.8 336.9L169.0 336.7L169.2 336.7L169.5 336.5L169.8 336.5L170.0 336.5L170.2 336.5L170.5 336.7L170.8 336.7L171.0 336.4L171.2 336.2L171.5 336.3L171.8 336.4L172.0 336.7L172.2 336.5L172.5 336.7L172.8 336.6L173.0 336.8L173.2 337.1L173.5 337.1L173.8 336.9L174.0 336.7L174.2 336.6L174.5 336.6L174.8 336.7L175.0 336.5L175.2 336.5L175.5 336.4L175.8 336.4L176.0 336.4L176.2 336.5L176.5 336.5L176.8 336.7L177.0 336.7L177.2 336.5L177.5 336.3L177.8 336.0L178.0 336.2L178.2 336.3L178.5 336.4L178.8 336.5L179.0 336.5L179.2 336.7L179.5 336.9L179.8 336.8L180.0 336.7L180.2 336.4L180.5 336.3L180.8 336.1L181.0 336.5L181.2 336.7L181.5 337.0L181.8 337.0L182.0 337.1L182.2 337.2L182.5 337.0L182.8 337.0L183.0 337.0L183.2 337.0L183.5 336.7L183.8 336.3L184.0 336.4L184.2 336.5L184.5 336.7L184.8 336.5L185.0 336.4L185.2 336.3L185.5 336.6L185.8 336.8L186.0 337.1L186.2 337.0L186.5 336.7L186.8 336.5L187.0 336.4L187.2 336.2L187.5 336.5L187.8 336.4L188.0 336.5L188.2 336.4L188.5 336.5L188.8 336.6L189.0 336.6L189.2 336.7L189.5 336.7L189.8 336.7L190.0 336.6L190.2 336.6L190.5 336.5L190.8 336.4L191.0 336.3L191.2 336.6L191.5 336.6L191.8 336.7L192.0 336.6L192.2 336.8L192.5 336.9L192.8 336.8L193.0 336.6L193.2 336.2L193.5 336.2L193.8 336.1L194.0 336.2L194.2 336.5L194.5 336.7L194.8 337.0L195.0 336.9L195.2 336.9L195.5 336.8L195.8 336.9L196.0 336.6L196.2 336.6L196.5 336.8L196.8 337.0L197.0 336.9L197.2 336.8L197.5 336.8L197.8 336.5L198.0 336.2L198.2 336.0L198.5 335.9L198.8 336.0L199.0 336.1L199.2 336.4L199.5 336.7L199.8 336.6L200.0 336.7L200.2 336.9L200.5 337.0L200.8 337.2L201.0 337.1L201.2 337.1L201.5 337.2L201.8 336.9L202.0 336.8L202.2 336.7L202.5 337.0L202.8 336.9L203.0 337.0L203.2 337.0L203.5 337.0L203.8 336.9L204.0 336.4L204.2 336.6L204.5 336.7L204.8 336.9L205.0 336.8L205.2 336.7L205.5 336.8L205.8 336.9L206.0 337.1L206.2 337.2L206.5 337.1L206.8 336.7L207.0 336.5L207.2 336.7L207.5 336.8L207.8 337.0L208.0 336.7L208.2 336.8L208.5 336.7L208.8 336.9L209.0 337.0L209.2 337.0L209.5 337.0L209.8 337.0L210.0 337.0L210.2 336.9L210.5 336.9L210.8 336.7L211.0 337.0L211.2 337.1L211.5 337.2L211.8 337.2L212.0 337.1L212.2 337.0L212.5 336.7L212.8 336.7L213.0 336.6L213.2 336.1L213.5 335.8L213.8 335.4L214.0 335.0L214.2 334.7L214.5 334.0L214.8 333.4L215.0 332.9L215.2 332.6L215.5 332.0L215.8 330.8L216.0 329.2L216.2 327.8L216.5 326.5L216.8 325.2L217.0 323.7L217.2 322.2L217.5 320.4L217.8 318.4L218.0 316.4L218.2 314.6L218.5 313.1L218.8 311.2L219.0 309.6L219.2 308.1L219.5 307.1L219.8 305.9L220.0 305.1L220.2 304.3L220.5 304.1L220.8 304.2L221.0 304.8L221.2 305.4L221.5 306.0L221.8 306.9L222.0 308.4L222.2 310.0L222.5 311.5L222.8 313.2L223.0 315.0L223.2 316.8L223.5 318.6L223.8 320.2L224.0 322.0L224.2 323.9L224.5 325.7L224.8 327.2L225.0 328.4L225.2 329.6L225.5 330.5L225.8 331.4L226.0 332.0L226.2 332.7L226.5 333.4L226.8 334.6L227.0 335.2L227.2 335.7L227.5 336.0L227.8 336.1L228.0 336.3L228.2 336.4L228.5 336.6L228.8 336.6L229.0 336.6L229.2 336.6L229.5 336.6L229.8 336.6L230.0 336.6L230.2 336.7L230.5 337.0L230.8 337.2L231.0 337.2L231.2 337.1L231.5 337.2L231.8 337.4L232.0 337.5L232.2 337.3L232.5 337.2L232.8 337.0L233.0 336.9L233.2 337.2L233.5 337.2L233.8 337.2L234.0 337.2L234.2 337.2L234.5 337.1L234.8 337.0L235.0 337.3L235.2 337.5L235.5 337.6L235.8 337.4L236.0 337.3L236.2 337.1L236.5 337.1L236.8 336.9L237.0 336.8L237.2 336.8L237.5 336.9L237.8 337.1L238.0 337.2L238.2 337.4L238.5 337.3L238.8 337.5L239.0 337.3L239.2 337.1L239.5 336.9L239.8 337.1L240.0 337.0L240.2 337.3L240.5 337.1L240.8 337.3L241.0 337.2L241.2 337.3L241.5 337.0L241.8 337.1L242.0 337.0L242.2 337.4L242.5 337.4L242.8 337.4L243.0 337.1L243.2 337.2L243.5 337.2L243.8 337.4L244.0 337.4L244.2 337.4L244.5 337.1L244.8 337.2L245.0 337.5L245.2 337.5L245.5 337.5L245.8 337.1L246.0 337.2L246.2 337.0L246.5 337.2L246.8 337.2L247.0 337.3L247.2 337.2L247.5 337.1L247.8 337.0L248.0 336.9L248.2 336.9L248.5 337.0L248.8 337.1L249.0 337.2L249.2 337.2L249.5 337.3L249.8 337.3L250.0 337.2L250.2 337.2L250.5 337.4L250.8 337.5L251.0 337.5L251.2 337.4L251.5 337.2L251.8 337.0L252.0 336.9L252.2 336.9L252.5 337.3L252.8 337.5L253.0 337.6L253.2 337.3L253.5 337.4L253.8 337.2L254.0 337.1L254.2 336.9L254.5 336.9L254.8 337.2L255.0 337.1L255.2 337.2L255.5 337.1L255.8 337.1L256.0 337.3L256.2 337.4L256.5 337.6L256.8 337.6L257.0 337.6L257.2 337.7L257.5 337.5L257.8 337.4L258.0 337.0L258.2 337.0L258.5 337.0L258.8 337.2L259.0 337.2L259.2 337.5L259.5 337.5L259.8 337.6L260.0 337.5L260.2 337.3L260.5 337.5L260.8 337.7L261.0 337.6L261.2 337.1L261.5 337.0L261.8 337.1L262.0 337.3L262.2 337.0L262.5 336.9L262.8 336.9L263.0 337.2L263.2 337.4L263.5 337.4L263.8 337.3L264.0 337.4L264.2 337.4L264.5 337.2L264.8 337.1L265.0 337.2L265.2 337.2L265.5 337.6L265.8 337.5L266.0 337.6L266.2 337.1L266.5 337.1L266.8 337.1L267.0 337.2L267.2 337.3L267.5 337.3L267.8 337.5L268.0 337.5L268.2 337.4L268.5 337.2L268.8 337.1L269.0 337.1L269.2 337.2L269.5 337.2L269.8 337.1L270.0 337.0L270.2 337.2L270.5 337.3L270.8 337.4L271.0 337.5L271.2 337.5L271.5 337.4L271.8 337.5L272.0 337.5L272.2 337.5L272.5 337.5L272.8 337.6L273.0 337.6L273.2 337.5L273.5 337.4L273.8 337.4L274.0 337.2L274.2 337.1L274.5 337.0L274.8 337.1L275.0 337.2L275.2 337.3L275.5 337.7L275.8 337.8L276.0 337.7L276.2 337.4L276.5 337.4L276.8 337.7L277.0 337.8L277.2 337.7L277.5 337.3L277.8 337.2L278.0 336.9L278.2 337.1L278.5 337.2L278.8 337.2L279.0 337.4L279.2 337.7L279.5 337.6L279.8 337.8L280.0 337.6L280.2 337.5L280.5 337.6L280.8 337.8L281.0 337.8L281.2 337.7L281.5 337.6L281.8 337.4L282.0 337.1L282.2 337.2L282.5 337.3L282.8 337.5L283.0 337.7L283.2 337.5L283.5 337.3L283.8 337.0L284.0 337.0L284.2 336.9L284.5 337.1L284.8 337.2L285.0 337.4L285.2 337.5L285.5 337.4L285.8 337.3L286.0 337.3L286.2 337.5L286.5 337.8L286.8 338.0L287.0 338.1L287.2 337.8L287.5 337.6L287.8 337.5L288.0 337.7L288.2 337.6L288.5 337.5L288.8 337.1L289.0 337.1L289.2 337.0L289.5 337.0L289.8 337.0L290.0 337.2L290.2 337.3L290.5 337.5L290.8 337.8L291.0 337.9L291.2 338.0L291.5 337.8L291.8 337.8L292.0 337.6L292.2 337.6L292.5 337.7L292.8 337.7L293.0 337.5L293.2 337.4L293.5 337.6L293.8 337.6L294.0 337.8L294.2 337.6L294.5 337.5L294.8 337.3L295.0 337.6L295.2 337.4L295.5 337.4L295.8 337.2L296.0 337.0L296.2 337.2L296.5 337.4L296.8 337.5L297.0 337.4L297.2 337.5L297.5 337.4L297.8 337.5L298.0 337.2L298.2 337.3L298.5 337.5L298.8 337.6L299.0 337.6L299.2 337.5L299.5 337.6L299.8 337.5L300.0 337.7L300.2 337.8L300.5 337.8L300.8 337.6L301.0 337.6L301.2 337.7L301.5 337.6L301.8 337.5L302.0 337.5L302.2 337.5L302.5 337.5L302.8 337.6L303.0 337.6L303.2 337.7L303.5 337.7L303.8 337.6L304.0 337.4L304.2 337.4L304.5 337.3L304.8 337.7L305.0 337.7L305.2 337.9L305.5 337.8L305.8 337.8L306.0 338.0L306.2 338.1L306.5 337.8L306.8 337.6L307.0 337.8L307.2 338.0L307.5 338.1L307.8 338.0L308.0 337.9L308.2 337.6L308.5 337.7L308.8 337.7L309.0 337.8L309.2 337.6L309.5 337.8L309.8 337.8L310.0 337.8L310.2 337.4L310.5 337.2L310.8 337.2L311.0 337.5L311.2 337.9L311.5 338.2L311.8 338.3L312.0 338.0L312.2 337.7L312.5 337.6L312.8 337.6L313.0 337.7L313.2 337.6L313.5 337.7L313.8 337.6L314.0 337.8L314.2 337.9L314.5 337.9L314.8 337.8L315.0 337.7L315.2 337.6L315.5 337.7L315.8 337.6L316.0 337.6L316.2 337.5L316.5 337.4L316.8 337.4L317.0 337.4L317.2 337.4L317.5 337.6L317.8 337.7L318.0 337.8L318.2 337.6L318.5 337.6L318.8 337.5L319.0 337.7L319.2 337.8L319.5 338.0L319.8 338.0L320.0 337.8L320.2 337.7L320.5 337.6L320.8 337.7L321.0 337.8L321.2 338.0L321.5 337.9L321.8 337.9L322.0 338.0L322.2 337.9L322.5 337.7L322.8 337.5L323.0 337.4L323.2 337.5L323.5 337.4L323.8 337.5L324.0 337.3L324.2 337.5L324.5 337.7L324.8 337.9L325.0 337.9L325.2 337.8L325.5 337.6L325.8 337.7L326.0 337.8L326.2 337.8L326.5 337.8L326.8 338.0L327.0 338.1L327.2 338.0L327.5 337.9L327.8 337.8L328.0 337.8L328.2 337.7L328.5 337.8L328.8 337.8L329.0 337.8L329.2 337.8L329.5 337.7L329.8 337.6L330.0 337.6L330.2 337.6L330.5 337.8L330.8 337.8L331.0 338.1L331.2 338.3L331.5 338.3L331.8 338.3L332.0 338.0L332.2 338.0L332.5 338.2L332.8 338.1L333.0 337.9L333.2 337.5L333.5 337.6L333.8 337.9L334.0 338.2L334.2 338.3L334.5 338.2L334.8 337.9L335.0 337.8L335.2 337.7L335.5 338.0L335.8 337.9L336.0 337.7L336.2 337.4L336.5 337.4L336.8 337.7L337.0 338.0L337.2 338.2L337.5 338.2L337.8 338.2L338.0 338.0L338.2 338.1L338.5 338.0L338.8 338.1L339.0 337.9L339.2 338.0L339.5 338.0L339.8 338.2L340.0 338.1L340.2 338.2L340.5 338.0L340.8 338.0L341.0 338.1L341.2 338.3L341.5 338.3L341.8 338.0L342.0 338.0L342.2 337.9L342.5 338.1L342.8 338.0L343.0 337.9L343.2 338.1L343.5 338.2L343.8 338.3L344.0 338.2L344.2 338.0L344.5 337.8L344.8 337.5L345.0 337.4L345.2 337.8L345.5 338.2L345.8 338.4L346.0 338.4L346.2 338.1L346.5 338.1L346.8 337.8L347.0 337.8L347.2 337.7L347.5 337.7L347.8 337.7L348.0 337.9L348.2 337.8L348.5 337.6L348.8 337.5L349.0 337.8L349.2 338.1L349.5 338.1L349.8 338.0L350.0 337.8L350.2 337.8L350.5 337.9L350.8 338.0L351.0 337.9L351.2 337.9L351.5 337.7L351.8 337.7L352.0 337.4L352.2 337.5L352.5 337.6L352.8 337.9L353.0 338.3L353.2 338.4L353.5 338.6L353.8 338.2L354.0 338.2L354.2 338.1L354.5 338.2L354.8 338.0L355.0 338.0L355.2 337.9L355.5 337.7L355.8 337.6L356.0 337.8L356.2 338.3L356.5 338.4L356.8 338.5L357.0 338.2L357.2 338.2L357.5 338.1L357.8 338.1L358.0 338.1L358.2 338.2L358.5 338.3L358.8 338.3L359.0 338.4L359.2 338.5L359.5 338.5L359.8 338.3L360.0 338.1L360.2 337.9L360.5 338.1L360.8 338.2L361.0 338.2L361.2 338.0L361.5 338.2L361.8 338.3L362.0 338.5L362.2 338.7L362.5 338.8L362.8 338.8L363.0 338.6L363.2 338.4L363.5 338.4L363.8 338.5L364.0 338.2L364.2 338.0L364.5 337.9L364.8 337.9L365.0 338.1L365.2 338.0L365.5 337.9L365.8 337.8L366.0 337.9L366.2 338.2L366.5 338.1L366.8 338.1L367.0 338.0L367.2 338.1L367.5 338.3L367.8 338.3L368.0 338.2L368.2 338.3L368.5 338.1L368.8 338.3L369.0 338.2L369.2 338.0L369.5 337.8L369.8 338.0L370.0 338.2L370.2 338.2L370.5 338.2L370.8 338.1L371.0 338.2L371.2 338.2L371.5 338.4L371.8 338.3L372.0 338.2L372.2 338.0L372.5 337.9L372.8 337.7L373.0 337.8L373.2 337.8L373.5 338.0L373.8 338.1L374.0 338.2L374.2 338.0L374.5 338.0L374.8 338.1L375.0 338.2L375.2 338.4L375.5 338.6L375.8 338.7L376.0 338.8L376.2 338.6L376.5 338.6L376.8 338.5L377.0 338.3L377.2 338.3L377.5 338.3L377.8 337.9L378.0 338.0L378.2 338.0L378.5 338.1L378.8 338.0L379.0 338.0L379.2 338.1L379.5 338.1L379.8 338.3L380.0 338.5L380.2 338.7L380.5 338.5L380.8 338.4L381.0 338.3L381.2 338.5L381.5 338.3L381.8 338.3L382.0 338.2L382.2 338.5L382.5 338.6L382.8 338.4L383.0 338.1L383.2 338.2L383.5 338.3L383.8 338.3L384.0 338.6L384.2 338.6L384.5 338.4L384.8 338.2L385.0 338.0L385.2 337.8L385.5 337.8L385.8 337.9L386.0 338.2L386.2 338.4L386.5 338.6L386.8 338.4L387.0 338.3L387.2 338.1L387.5 338.0L387.8 338.0L388.0 337.9L388.2 337.8L388.5 338.0L388.8 338.4L389.0 338.5L389.2 338.3L389.5 338.2L389.8 338.1L390.0 338.1L390.2 338.0L390.5 338.0L390.8 338.1L391.0 338.3L391.2 338.2L391.5 338.4L391.8 338.4L392.0 338.3L392.2 338.1L392.5 338.1L392.8 338.0L393.0 338.0L393.2 338.3L393.5 338.3L393.8 338.3L394.0 338.2L394.2 338.3L394.5 338.2L394.8 338.3L395.0 338.2L395.2 338.1L395.5 338.1L395.8 338.0L396.0 338.2L396.2 338.0L396.5 338.1L396.8 337.9L397.0 338.2L397.2 338.3L397.5 338.5L397.8 338.6L398.0 338.7L398.2 338.6L398.5 338.6L398.8 338.5L399.0 338.5L399.2 338.2L399.5 338.2L399.8 338.1L400.0 338.2L400.2 338.3L400.5 338.4L400.8 338.5L401.0 338.5L401.2 338.6L401.5 338.4L401.8 338.2L402.0 338.1L402.2 338.1L402.5 338.2L402.8 338.2L403.0 338.1L403.2 338.1L403.5 338.0L403.8 338.2L404.0 338.2L404.2 338.1L404.5 338.0L404.8 337.8L405.0 337.8L405.2 337.7L405.5 337.6L405.8 337.6L406.0 337.5L406.2 337.5L406.5 337.4L406.8 337.5L407.0 337.6L407.2 337.6L407.5 337.5L407.8 337.2L408.0 337.2L408.2 337.1L408.5 337.2L408.8 337.1L409.0 337.2L409.2 337.2L409.5 337.5L409.8 337.1L410.0 337.0L410.2 336.6L410.5 336.5L410.8 336.4L411.0 336.3L411.2 335.9L411.5 335.8L411.8 336.0L412.0 336.2L412.2 336.1L412.5 335.6L412.8 335.2L413.0 334.8L413.2 334.5L413.5 334.3L413.8 334.0L414.0 333.5L414.2 332.7L414.5 331.8L414.8 330.5L415.0 329.2L415.2 328.2L415.5 327.0L415.8 325.3L416.0 323.1L416.2 320.4L416.5 317.1L416.8 313.0L417.0 307.7L417.2 301.1L417.5 293.6L417.8 285.6L418.0 278.2L418.2 273.6L418.5 272.8L418.8 276.7L419.0 284.0L419.2 292.3L419.5 300.1L419.8 306.9L420.0 312.4L420.2 316.7L420.5 320.2L420.8 322.9L421.0 325.4L421.2 327.3L421.5 328.9L421.8 330.2L422.0 331.2L422.2 331.7L422.5 332.5L422.8 333.0L423.0 333.6L423.2 334.2L423.5 334.5L423.8 335.0L424.0 335.3L424.2 335.6L424.5 335.8L424.8 336.1L425.0 336.2L425.2 336.3L425.5 336.4L425.8 336.4L426.0 336.7L426.2 336.8L426.5 337.1L426.8 336.9L427.0 337.2L427.2 337.1L427.5 337.2L427.8 337.4L428.0 337.6L428.2 337.6L428.5 337.6L428.8 337.3L429.0 337.5L429.2 337.5L429.5 337.7L429.8 337.4L430.0 337.6L430.2 338.1L430.5 338.4L430.8 338.3L431.0 338.1L431.2 337.9L431.5 337.7L431.8 337.6L432.0 337.6L432.2 337.5L432.5 337.9L432.8 338.1L433.0 338.3L433.2 338.2L433.5 338.1L433.8 338.0L434.0 337.7L434.2 338.0L434.5 338.1L434.8 338.6L435.0 338.6L435.2 338.6L435.5 338.5L435.8 338.5L436.0 338.1L436.2 338.1L436.5 338.2L436.8 338.5L437.0 338.3L437.2 338.4L437.5 338.3L437.8 338.6L438.0 338.7L438.2 338.6L438.5 338.6L438.8 338.2L439.0 337.9L439.2 337.9L439.5 338.0L439.8 338.3L440.0 338.6L440.2 338.6L440.5 338.7L440.8 338.5L441.0 338.6L441.2 338.7L441.5 338.4L441.8 338.5L442.0 338.3L442.2 338.7L442.5 338.7L442.8 338.7L443.0 338.7L443.2 338.7L443.5 338.9L443.8 338.8L444.0 338.7L444.2 338.6L444.5 338.6L444.8 338.7L445.0 338.7L445.2 339.1L445.5 338.9L445.8 338.9L446.0 338.8L446.2 338.7L446.5 338.7L446.8 338.8L447.0 338.9L447.2 339.0L447.5 339.3L447.8 339.2L448.0 339.4L448.2 339.3L448.5 339.0L448.8 339.2L449.0 338.9L449.2 339.0L449.5 338.8L449.8 338.8L450.0 338.8L450.2 338.7L450.5 338.9L450.8 339.0L451.0 338.8L451.2 338.7L451.5 338.7L451.8 338.5L452.0 338.8L452.2 338.7L452.5 338.8L452.8 338.6L453.0 338.6L453.2 338.6L453.5 338.6L453.8 338.8L454.0 338.7L454.2 338.7L454.5 338.7L454.8 338.9L455.0 339.1L455.2 338.9L455.5 338.8L455.8 338.7L456.0 338.7L456.2 338.8L456.5 339.1L456.8 339.4L457.0 339.3L457.2 339.1L457.5 338.9L457.8 339.0L458.0 339.0L458.2 339.1L458.5 339.0L458.8 339.0L459.0 338.8L459.2 338.8L459.5 338.7L459.8 338.7L460.0 338.6L460.2 338.6L460.5 338.5L460.8 338.6L461.0 338.8L461.2 339.0L461.5 338.9L461.8 338.8L462.0 338.6L462.2 338.7L462.5 338.7L462.8 338.9L463.0 338.8L463.2 338.9L463.5 339.2L463.8 339.2L464.0 339.1L464.2 338.9L464.5 339.0L464.8 338.8L465.0 338.6L465.2 338.7L465.5 338.9L465.8 338.9L466.0 338.7L466.2 338.6L466.5 338.7L466.8 338.9L467.0 338.7L467.2 338.7L467.5 338.8L467.8 339.1L468.0 339.0L468.2 339.2L468.5 339.1L468.8 339.0L469.0 338.9L469.2 338.9L469.5 338.8L469.8 339.0L470.0 339.0L470.2 339.1L470.5 339.2L470.8 339.2L471.0 339.1L471.2 338.8L471.5 338.9L471.8 339.1L472.0 339.2L472.2 339.2L472.5 339.1L472.8 339.0L473.0 338.9L473.2 339.0L473.5 339.2L473.8 339.1L474.0 339.0L474.2 339.0L474.5 339.2L474.8 339.5L475.0 339.8L475.2 339.7L475.5 339.6L475.8 339.4L476.0 339.1L476.2 339.1L476.5 339.3L476.8 339.4L477.0 339.3L477.2 339.3L477.5 339.2L477.8 339.3L478.0 339.2L478.2 339.1L478.5 339.0L478.8 339.1L479.0 339.1L479.2 339.2L479.5 339.3L479.8 339.4L480.0 339.3L480.2 339.3L480.5 339.3L480.8 339.2L481.0 339.0L481.2 338.8L481.5 338.8L481.8 338.8L482.0 339.1L482.2 339.2L482.5 339.1L482.8 339.0L483.0 338.9L483.2 339.0L483.5 339.1L483.8 339.0L484.0 338.9L484.2 338.8L484.5 339.0L484.8 339.0L485.0 339.1L485.2 339.3L485.5 339.5L485.8 339.6L486.0 339.4L486.2 339.3L486.5 339.0L486.8 338.9L487.0 338.6L487.2 338.6L487.5 339.0L487.8 339.3L488.0 339.3L488.2 339.0L488.5 338.9L488.8 339.1L489.0 339.4L489.2 339.3L489.5 339.2L489.8 338.8L490.0 338.9L490.2 339.1L490.5 339.4L490.8 339.4L491.0 339.5L491.2 339.5L491.5 339.6L491.8 339.6L492.0 339.4L492.2 339.1L492.5 339.1L492.8 339.3L493.0 339.5L493.2 339.4L493.5 339.3L493.8 339.4L494.0 339.5L494.2 339.4L494.5 339.3L494.8 339.2L495.0 339.2L495.2 339.2L495.5 339.4L495.8 339.4L496.0 339.6L496.2 339.5L496.5 339.4L496.8 339.3L497.0 339.2L497.2 338.9L497.5 338.8L497.8 339.1L498.0 339.5L498.2 339.6L498.5 339.5L498.8 339.3L499.0 339.3L499.2 339.0L499.5 339.3L499.8 339.1L500.0 339.2L500.2 339.1L500.5 339.4L500.8 339.4L501.0 339.6L501.2 339.6L501.5 339.7L501.8 339.6L502.0 339.5L502.2 339.1L502.5 339.0L502.8 338.9L503.0 339.0L503.2 339.1L503.5 338.9L503.8 338.9L504.0 339.1L504.2 339.3L504.5 339.5L504.8 339.6L505.0 339.4L505.2 339.4L505.5 339.2L505.8 339.3L506.0 339.4L506.2 339.5L506.5 339.5L506.8 339.4L507.0 339.2L507.2 339.2L507.5 339.0L507.8 339.2L508.0 339.3L508.2 339.5L508.5 339.4L508.8 339.3L509.0 339.1L509.2 339.3L509.5 339.7L509.8 339.6L510.0 339.4L510.2 339.6L510.5 339.4L510.8 339.4L511.0 339.2L511.2 339.1L511.5 339.1L511.8 339.2L512.0 339.2L512.2 339.1L512.5 339.1L512.8 339.3L513.0 339.6L513.2 339.5L513.5 339.5L513.8 339.4L514.0 339.7L514.2 339.6L514.5 339.6L514.8 339.6L515.0 339.4L515.2 339.3L515.5 339.1L515.8 339.2L516.0 339.2L516.2 339.4L516.5 339.3L516.8 339.3L517.0 339.5L517.2 339.6L517.5 339.6L517.8 339.5L518.0 339.5L518.2 339.4L518.5 339.4L518.8 339.2L519.0 339.3L519.2 339.3L519.5 339.3L519.8 339.2L520.0 339.1L520.2 339.1L520.5 339.1L520.8 339.6L521.0 339.7L521.2 339.7L521.5 339.3L521.8 339.0L522.0 339.3L522.2 339.5L522.5 339.8L522.8 339.9L523.0 339.8L523.2 339.6L523.5 339.5L523.8 339.4L524.0 339.3L524.2 339.1L524.5 338.9L524.8 339.0L525.0 339.2L525.2 339.3L525.5 339.3L525.8 339.2L526.0 339.1L526.2 339.3L526.5 339.4L526.8 339.7L527.0 339.8L527.2 339.9L527.5 339.8L527.8 339.7L528.0 339.7L528.2 339.9L528.5 339.8L528.8 339.9L529.0 340.0L529.2 339.9L529.5 340.0L529.8 340.0L530.0 340.3L530.2 339.9L530.5 339.8L530.8 339.6L531.0 339.7L531.2 339.5L531.5 339.5L531.8 339.5L532.0 339.5L532.2 339.6L532.5 339.7L532.8 339.5" fill="none" stroke="#ff0000" stroke-width="3.3" stroke-linejoin="round"/>
<path d="M152.2 194.7L102.1 306.8" stroke="#4a4a4a" stroke-width="1.45" stroke-dasharray="4.2 3" fill="none"/>
<path d="M98.3 315.3L97.9 304.9L106.3 308.7z" fill="#404040"/>
<path d="M330.8 194.7L296.3 266.6" stroke="#4a4a4a" stroke-width="1.45" stroke-dasharray="4.2 3" fill="none"/>
<path d="M292.3 275.0L292.2 264.6L300.5 268.6z" fill="#404040"/>
<rect x="73.8" y="17.3" width="184.3" height="164.6" fill="#000"/>
<rect x="265.0" y="17.3" width="180.9" height="164.6" fill="#000"/>
<path d="M86.2 102.8L166.0 155.4L246.79999999999998 104.80000000000001l1.4 1.2L166.8 157.0L86.2 105.8z" fill="#e4ddc8"/>
<clipPath id="ca"><path d="M86.2 102.8L100.0 94.0L125.0 78.0L150.0 61.6L165.7 52.0L190.0 67.6L215.0 83.8L246.2 104.4L246.7 105.4L166.0 155.1L86.2 105.3z"/></clipPath>
<g clip-path="url(#ca)">
<g transform="matrix(0.7950 -0.5080 0.7980 0.5230 86.2 102.8)">
<g filter="url(#fa)">
<rect x="-12" y="-12" width="124.0" height="124.0" fill="#808080"/>
<ellipse cx="24.2" cy="18.2" rx="14" ry="10" fill="rgb(100,100,100)" opacity="0.8"/>
<ellipse cx="80.1" cy="62.8" rx="14" ry="10" fill="rgb(150,150,150)" opacity="0.8"/>
<ellipse cx="82.1" cy="17.0" rx="12" ry="8" fill="rgb(150,150,150)" opacity="0.7"/>
<ellipse cx="9.3" cy="70.6" rx="12" ry="8" fill="rgb(110,110,110)" opacity="0.6"/>
</g>
</g></g>
<path d="M86.2 104.6L166.0 155.9" stroke="#efe8d0" stroke-width="0.8" fill="none"/>
<path d="M166.0 155.5L246.7 104.9" stroke="#3a2a08" stroke-width="0.7" fill="none"/>
<path d="M277.3 98.0L357.0 152.4L358.0 154.0L277.3 101.5z" fill="#e4ddc8"/>
<clipPath id="cb"><path d="M277.5 93.9L283.0 89.2L288.7 85.8L293.0 82.0L298.0 79.2L303.0 75.0L307.4 72.6L311.0 68.5L314.9 66.2L318.0 63.0L324.2 60.0L329.8 63.5L331.7 58.6L338.0 55.6L344.8 52.1L348.0 49.0L352.2 46.5L357.9 43.4L361.0 47.0L368.1 52.6L376.0 58.0L384.5 64.2L392.0 69.0L400.8 74.5L409.0 81.0L417.2 87.2L426.0 93.0L434.2 98.2L428.0 102.6L424.0 104.6L419.8 108.0L414.0 111.2L409.0 115.2L404.0 117.8L398.0 122.4L393.3 125.0L388.0 129.0L383.0 131.4L378.0 135.2L373.0 138.0L368.0 141.8L363.0 145.0L359.0 148.6L357.0 152.4L277.3 100.4z"/></clipPath>
<g clip-path="url(#cb)">
<g transform="matrix(0.7920 -0.5100 0.7970 0.5540 277.3 97.0)">
<g filter="url(#fb)">
<rect x="-12" y="-12" width="124.0" height="124.0" fill="#808080"/>
<ellipse cx="17.2" cy="1.4" rx="18" ry="9" fill="rgb(20,20,20)" opacity="0.9"/>
<ellipse cx="34.3" cy="4.5" rx="12" ry="8" fill="rgb(30,30,30)" opacity="0.7"/>
<ellipse cx="64.9" cy="18.7" rx="11" ry="10" fill="rgb(20,20,20)" opacity="0.9"/>
<ellipse cx="50.7" cy="73.8" rx="11" ry="9" fill="rgb(20,20,20)" opacity="0.9"/>
<ellipse cx="94.1" cy="84.1" rx="10" ry="10" fill="rgb(30,30,30)" opacity="0.8"/>
<ellipse cx="85.1" cy="10.9" rx="10" ry="8" fill="rgb(40,40,40)" opacity="0.7"/>
<ellipse cx="89.3" cy="55.2" rx="10" ry="7" fill="rgb(50,50,50)" opacity="0.6"/>
<ellipse cx="56.9" cy="41.0" rx="11" ry="9" fill="rgb(235,235,235)" opacity="0.9"/>
<ellipse cx="20.2" cy="42.6" rx="10" ry="8" fill="rgb(230,230,230)" opacity="0.9"/>
<ellipse cx="35.6" cy="86.9" rx="10" ry="8" fill="rgb(230,230,230)" opacity="0.8"/>
<ellipse cx="36.5" cy="33.6" rx="8" ry="6" fill="rgb(210,210,210)" opacity="0.7"/>
<ellipse cx="67.6" cy="89.3" rx="8" ry="6" fill="rgb(215,215,215)" opacity="0.7"/>
</g>
</g></g>
<path d="M277.3 100.2L357.0 153.20000000000002" stroke="#efe8d0" stroke-width="0.8" fill="none"/>
<path d="M357.6 153.70000000000002L436.8 101.9" stroke="#f0f0e8" stroke-width="0.9" fill="none"/>
<g fill="#fff" filter="url(#bl)">
<path d="M313.5 69.5L317 64.5L320 62.5L323.5 59.5L326 61.5L329 66L324 70.5L318 69z"/>
<path d="M381 100.5L383 94L385.5 88.5L388.5 92L391.5 100.5L386 102z"/>
<path d="M398.3 105.5L401 97.5L404.2 105.5z"/>
<ellipse cx="405.3" cy="81.8" rx="2.6" ry="1.8"/>
</g>
<path d="M86.8 89v15M86.8 89.5h-5.5M86.8 93h-4M86.8 96.5h-4M86.8 100h-4M86.8 103.5h-6" stroke="#fff" stroke-width="1.2" fill="none"/>
<path d="M277.3 83.5v15M277.3 84.0h-5.5M277.3 87.5h-4M277.3 91.0h-4M277.3 94.5h-4M277.3 98.0h-6" stroke="#fff" stroke-width="1.2" fill="none"/>
<text x="89.7" y="116.3" font-size="3.2" fill="#ddd" text-anchor="middle" font-family="Liberation Sans, sans-serif" font-weight="bold">100</text>
<path d="M94.2 110.8l-1.4 2" stroke="#ddd" stroke-width="0.6"/>
<text x="97.7" y="121.4" font-size="3.2" fill="#ddd" text-anchor="middle" font-family="Liberation Sans, sans-serif" font-weight="bold">200</text>
<path d="M102.2 115.9l-1.4 2" stroke="#ddd" stroke-width="0.6"/>
<text x="105.6" y="126.4" font-size="3.2" fill="#ddd" text-anchor="middle" font-family="Liberation Sans, sans-serif" font-weight="bold">300</text>
<path d="M110.1 120.9l-1.4 2" stroke="#ddd" stroke-width="0.6"/>
<text x="113.6" y="131.4" font-size="3.2" fill="#ddd" text-anchor="middle" font-family="Liberation Sans, sans-serif" font-weight="bold">400</text>
<path d="M118.1 125.9l-1.4 2" stroke="#ddd" stroke-width="0.6"/>
<text x="121.6" y="136.4" font-size="3.2" fill="#ddd" text-anchor="middle" font-family="Liberation Sans, sans-serif" font-weight="bold">500</text>
<path d="M126.1 130.9l-1.4 2" stroke="#ddd" stroke-width="0.6"/>
<text x="129.6" y="141.5" font-size="3.2" fill="#ddd" text-anchor="middle" font-family="Liberation Sans, sans-serif" font-weight="bold">600</text>
<path d="M134.1 136.0l-1.4 2" stroke="#ddd" stroke-width="0.6"/>
<text x="137.6" y="146.5" font-size="3.2" fill="#ddd" text-anchor="middle" font-family="Liberation Sans, sans-serif" font-weight="bold">700</text>
<path d="M142.1 141.0l-1.4 2" stroke="#ddd" stroke-width="0.6"/>
<text x="145.5" y="151.5" font-size="3.2" fill="#ddd" text-anchor="middle" font-family="Liberation Sans, sans-serif" font-weight="bold">800</text>
<path d="M150.0 146.0l-1.4 2" stroke="#ddd" stroke-width="0.6"/>
<text x="153.5" y="156.6" font-size="3.2" fill="#ddd" text-anchor="middle" font-family="Liberation Sans, sans-serif" font-weight="bold">900</text>
<path d="M158.0 151.1l-1.4 2" stroke="#ddd" stroke-width="0.6"/>
<text x="169.0" y="162.6" font-size="3" fill="#ddd" text-anchor="middle" font-family="Liberation Sans, sans-serif">nm</text>
<text x="280.8" y="112.2" font-size="3.2" fill="#ddd" text-anchor="middle" font-family="Liberation Sans, sans-serif" font-weight="bold">100</text>
<path d="M285.3 106.7l-1.4 2" stroke="#ddd" stroke-width="0.6"/>
<text x="288.7" y="117.4" font-size="3.2" fill="#ddd" text-anchor="middle" font-family="Liberation Sans, sans-serif" font-weight="bold">200</text>
<path d="M293.2 111.9l-1.4 2" stroke="#ddd" stroke-width="0.6"/>
<text x="296.7" y="122.6" font-size="3.2" fill="#ddd" text-anchor="middle" font-family="Liberation Sans, sans-serif" font-weight="bold">300</text>
<path d="M301.2 117.1l-1.4 2" stroke="#ddd" stroke-width="0.6"/>
<text x="304.7" y="127.8" font-size="3.2" fill="#ddd" text-anchor="middle" font-family="Liberation Sans, sans-serif" font-weight="bold">400</text>
<path d="M309.2 122.3l-1.4 2" stroke="#ddd" stroke-width="0.6"/>
<text x="312.6" y="132.9" font-size="3.2" fill="#ddd" text-anchor="middle" font-family="Liberation Sans, sans-serif" font-weight="bold">500</text>
<path d="M317.1 127.5l-1.4 2" stroke="#ddd" stroke-width="0.6"/>
<text x="320.6" y="138.1" font-size="3.2" fill="#ddd" text-anchor="middle" font-family="Liberation Sans, sans-serif" font-weight="bold">600</text>
<path d="M325.1 132.6l-1.4 2" stroke="#ddd" stroke-width="0.6"/>
<text x="328.6" y="143.3" font-size="3.2" fill="#ddd" text-anchor="middle" font-family="Liberation Sans, sans-serif" font-weight="bold">700</text>
<path d="M333.1 137.8l-1.4 2" stroke="#ddd" stroke-width="0.6"/>
<text x="336.6" y="148.5" font-size="3.2" fill="#ddd" text-anchor="middle" font-family="Liberation Sans, sans-serif" font-weight="bold">800</text>
<path d="M341.1 143.0l-1.4 2" stroke="#ddd" stroke-width="0.6"/>
<text x="344.5" y="153.7" font-size="3.2" fill="#ddd" text-anchor="middle" font-family="Liberation Sans, sans-serif" font-weight="bold">900</text>
<path d="M349.0 148.2l-1.4 2" stroke="#ddd" stroke-width="0.6"/>
<text x="360.0" y="159.9" font-size="3" fill="#ddd" text-anchor="middle" font-family="Liberation Sans, sans-serif">nm</text>
<path d="M170.4 160.2L186.6 158.4L184.4 155.0L239.2 118.7L241.4 122.2L249.4 107.9L233.2 109.7L235.4 113.1L180.6 149.4L178.4 145.9z" fill="#fff"/>
<path d="M359.0 158.2L375.2 156.4L372.9 153.0L430.4 114.4L432.7 117.8L440.6 103.5L424.4 105.3L426.7 108.7L369.2 147.3L366.9 143.9z" fill="#fff"/>
<text x="140.4" y="40.3" font-size="20.9" fill="#fff" font-family="Liberation Sans, Arial, sans-serif" textLength="106.2" lengthAdjust="spacingAndGlyphs" >(a) as.depo</text>
<text x="298.2" y="40.4" font-size="21.3" fill="#fff" font-family="Liberation Sans, Arial, sans-serif" textLength="28" lengthAdjust="spacingAndGlyphs" >(b)</text>
<text x="331.5" y="40.4" font-size="20.5" fill="#fff" font-family="Liberation Sans, Arial, sans-serif" textLength="11" lengthAdjust="spacingAndGlyphs" font-style="italic">T</text>
<text x="343.2" y="44.9" font-size="13.5" fill="#fff" font-family="Liberation Sans, Arial, sans-serif" textLength="13.2" lengthAdjust="spacingAndGlyphs" >a1</text>
<text x="364.8" y="40.4" font-size="20.5" fill="#fff" font-family="Liberation Sans, Arial, sans-serif" textLength="73.8" lengthAdjust="spacingAndGlyphs" >= 500°C</text>
<text x="81.0" y="175.4" font-size="19.2" fill="#fff" font-family="Liberation Sans, Arial, sans-serif" textLength="10.3" lengthAdjust="spacingAndGlyphs" font-style="italic">R</text>
<text x="92.4" y="180.6" font-size="14.5" fill="#fff" font-family="Liberation Sans, Arial, sans-serif" textLength="7.8" lengthAdjust="spacingAndGlyphs" >a</text>
<text x="104.9" y="175.4" font-size="19.2" fill="#fff" font-family="Liberation Sans, Arial, sans-serif" textLength="11" lengthAdjust="spacingAndGlyphs" >=</text>
<text x="122.2" y="175.4" font-size="19.2" fill="#fff" font-family="Liberation Sans, Arial, sans-serif" textLength="38.8" lengthAdjust="spacingAndGlyphs" >0.10</text>
<text x="172.0" y="175.4" font-size="19.2" fill="#fff" font-family="Liberation Sans, Arial, sans-serif" textLength="29.2" lengthAdjust="spacingAndGlyphs" >nm</text>
<text x="269.8" y="175.4" font-size="19.2" fill="#fff" font-family="Liberation Sans, Arial, sans-serif" textLength="10.3" lengthAdjust="spacingAndGlyphs" font-style="italic">R</text>
<text x="281.20000000000005" y="180.6" font-size="14.5" fill="#fff" font-family="Liberation Sans, Arial, sans-serif" textLength="7.8" lengthAdjust="spacingAndGlyphs" >a</text>
<text x="293.70000000000005" y="175.4" font-size="19.2" fill="#fff" font-family="Liberation Sans, Arial, sans-serif" textLength="11" lengthAdjust="spacingAndGlyphs" >=</text>
<text x="311.0" y="175.4" font-size="19.2" fill="#fff" font-family="Liberation Sans, Arial, sans-serif" textLength="38.8" lengthAdjust="spacingAndGlyphs" >0.28</text>
<text x="360.8" y="175.4" font-size="19.2" fill="#fff" font-family="Liberation Sans, Arial, sans-serif" textLength="29.2" lengthAdjust="spacingAndGlyphs" >nm</text>
<text transform="translate(87.8 86.3) rotate(-90)" font-size="15" fill="#fff" font-family="Liberation Sans, Arial, sans-serif" textLength="50" lengthAdjust="spacingAndGlyphs">6 [nm]</text>
<text transform="translate(278.6 80) rotate(-90)" font-size="15" fill="#fff" font-family="Liberation Sans, Arial, sans-serif" textLength="50" lengthAdjust="spacingAndGlyphs">3 [nm]</text>
<text transform="translate(220.3 141.8) rotate(-33)" font-size="14.5" fill="#fff" font-family="Liberation Sans, Arial, sans-serif" text-anchor="middle" textLength="47" lengthAdjust="spacingAndGlyphs" y="5">1 [µm]</text>
<text transform="translate(415.4 136.6) rotate(-34)" font-size="14.5" fill="#fff" font-family="Liberation Sans, Arial, sans-serif" text-anchor="middle" textLength="47" lengthAdjust="spacingAndGlyphs" y="5">1 [µm]</text>
<text x="387.4" y="207.1" font-size="20" fill="#000" font-family="Liberation Sans, Arial, sans-serif" textLength="64.6" lengthAdjust="spacingAndGlyphs" >Si (004)</text>
<text x="194.0" y="241.2" font-size="18.5" fill="#000" font-family="Liberation Sans, Arial, sans-serif" textLength="75.5" lengthAdjust="spacingAndGlyphs" >Ru (00.2)</text>
<text x="141.6" y="270.8" font-size="18.5" fill="#000" font-family="Liberation Sans, Arial, sans-serif" textLength="75.5" lengthAdjust="spacingAndGlyphs" >Ru (10.0)</text>
<text x="65.0" y="265.8" font-size="21.5" fill="#000" font-family="Liberation Sans, Arial, sans-serif" textLength="27.6" lengthAdjust="spacingAndGlyphs" >(d)</text>
<text x="65.0" y="317.0" font-size="21.5" fill="#000" font-family="Liberation Sans, Arial, sans-serif" textLength="25.2" lengthAdjust="spacingAndGlyphs" >(c)</text>
<text x="427.4" y="278.6" font-size="19.3" fill="#222" font-family="Liberation Sans, Arial, sans-serif" textLength="10.4" lengthAdjust="spacingAndGlyphs" font-style="italic">T</text>
<text x="438.5" y="283.0" font-size="12.5" fill="#222" font-family="Liberation Sans, Arial, sans-serif" textLength="13" lengthAdjust="spacingAndGlyphs" >a1</text>
<text x="455.0" y="278.6" font-size="19.3" fill="#222" font-family="Liberation Sans, Arial, sans-serif" textLength="73" lengthAdjust="spacingAndGlyphs" >= 500 °C</text>
<text x="445.4" y="320.1" font-size="18" fill="#222" font-family="Liberation Sans, Arial, sans-serif" textLength="67.5" lengthAdjust="spacingAndGlyphs" >as.depo</text>
<text x="57.8" y="370.3" font-size="18" text-anchor="middle" font-family="Liberation Sans, Arial, sans-serif" textLength="24.2" lengthAdjust="spacingAndGlyphs">20</text>
<text x="131.0" y="370.3" font-size="18" text-anchor="middle" font-family="Liberation Sans, Arial, sans-serif" textLength="24.2" lengthAdjust="spacingAndGlyphs">30</text>
<text x="204.1" y="370.3" font-size="18" text-anchor="middle" font-family="Liberation Sans, Arial, sans-serif" textLength="24.2" lengthAdjust="spacingAndGlyphs">40</text>
<text x="277.3" y="370.3" font-size="18" text-anchor="middle" font-family="Liberation Sans, Arial, sans-serif" textLength="24.2" lengthAdjust="spacingAndGlyphs">50</text>
<text x="350.5" y="370.3" font-size="18" text-anchor="middle" font-family="Liberation Sans, Arial, sans-serif" textLength="24.2" lengthAdjust="spacingAndGlyphs">60</text>
<text x="423.7" y="370.3" font-size="18" text-anchor="middle" font-family="Liberation Sans, Arial, sans-serif" textLength="24.2" lengthAdjust="spacingAndGlyphs">70</text>
<text x="496.8" y="370.3" font-size="18" text-anchor="middle" font-family="Liberation Sans, Arial, sans-serif" textLength="24.2" lengthAdjust="spacingAndGlyphs">80</text>
<text x="238.2" y="408.5" font-size="20.3" fill="#000" font-family="Liberation Sans, Arial, sans-serif" textLength="121.2" lengthAdjust="spacingAndGlyphs" >2theta (deg.)</text>
<text transform="translate(17.4 260.8) rotate(-90) scale(1 0.92)" font-size="20.8" font-family="Liberation Sans, Arial, sans-serif" textLength="182.5" lengthAdjust="spacingAndGlyphs">Intensity (arb.unit)</text>
</svg>
</body></html>
